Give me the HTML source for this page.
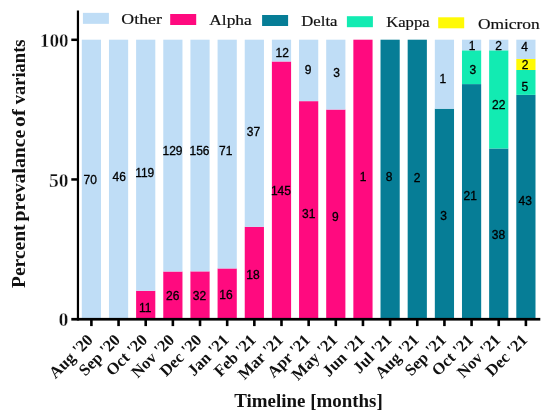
<!DOCTYPE html>
<html><head><meta charset="utf-8"><title>Percent prevalance of variants</title>
<style>
html,body{margin:0;padding:0;background:#fff;}
svg{display:block}
.ax{font-family:"Liberation Serif",serif;font-weight:bold;fill:#111}
.yt{stroke:#fff;stroke-width:0.35px}
.lg{font-family:"Liberation Serif",serif;fill:#111;stroke:#111;stroke-width:0.2px;font-size:15.4px}
.n{font-family:"Liberation Sans",sans-serif;font-size:12px;fill:#000;stroke:#000;stroke-width:0.3px;text-anchor:middle}
</style></head><body>
<svg width="550" height="418" viewBox="0 0 550 418">
<rect width="550" height="418" fill="#fff"/>

<rect x="81.80" y="39.70" width="19.20" height="279.30" fill="#BFDDF6"/>
<rect x="108.96" y="39.70" width="19.20" height="279.30" fill="#BFDDF6"/>
<rect x="136.11" y="290.79" width="19.20" height="28.21" fill="#FF0A7F"/>
<rect x="136.11" y="39.70" width="19.20" height="251.09" fill="#BFDDF6"/>
<rect x="163.27" y="271.52" width="19.20" height="47.48" fill="#FF0A7F"/>
<rect x="163.27" y="39.70" width="19.20" height="231.82" fill="#BFDDF6"/>
<rect x="190.42" y="271.38" width="19.20" height="47.62" fill="#FF0A7F"/>
<rect x="190.42" y="39.70" width="19.20" height="231.68" fill="#BFDDF6"/>
<rect x="217.58" y="268.45" width="19.20" height="50.55" fill="#FF0A7F"/>
<rect x="217.58" y="39.70" width="19.20" height="228.75" fill="#BFDDF6"/>
<rect x="244.74" y="226.83" width="19.20" height="92.17" fill="#FF0A7F"/>
<rect x="244.74" y="39.70" width="19.20" height="187.13" fill="#BFDDF6"/>
<rect x="271.89" y="61.49" width="19.20" height="257.51" fill="#FF0A7F"/>
<rect x="271.89" y="39.70" width="19.20" height="21.79" fill="#BFDDF6"/>
<rect x="299.05" y="101.15" width="19.20" height="217.85" fill="#FF0A7F"/>
<rect x="299.05" y="39.70" width="19.20" height="61.45" fill="#BFDDF6"/>
<rect x="326.20" y="109.53" width="19.20" height="209.47" fill="#FF0A7F"/>
<rect x="326.20" y="39.70" width="19.20" height="69.83" fill="#BFDDF6"/>
<rect x="353.36" y="39.70" width="19.20" height="279.30" fill="#FF0A7F"/>
<rect x="380.52" y="39.70" width="19.20" height="279.30" fill="#067D96"/>
<rect x="407.67" y="39.70" width="19.20" height="279.30" fill="#067D96"/>
<rect x="434.83" y="108.69" width="19.20" height="210.31" fill="#067D96"/>
<rect x="434.83" y="39.70" width="19.20" height="68.99" fill="#BFDDF6"/>
<rect x="461.98" y="84.11" width="19.20" height="234.89" fill="#067D96"/>
<rect x="461.98" y="50.31" width="19.20" height="33.80" fill="#12EBB2"/>
<rect x="461.98" y="39.70" width="19.20" height="10.61" fill="#BFDDF6"/>
<rect x="489.14" y="148.49" width="19.20" height="170.51" fill="#067D96"/>
<rect x="489.14" y="50.31" width="19.20" height="98.17" fill="#12EBB2"/>
<rect x="489.14" y="39.70" width="19.20" height="10.61" fill="#BFDDF6"/>
<rect x="516.30" y="94.86" width="19.20" height="224.14" fill="#067D96"/>
<rect x="516.30" y="70.00" width="19.20" height="24.86" fill="#12EBB2"/>
<rect x="516.30" y="58.97" width="19.20" height="11.03" fill="#FFFA05"/>
<rect x="516.30" y="39.70" width="19.20" height="19.27" fill="#BFDDF6"/>
<rect x="76.85" y="10.5" width="2.2" height="310" fill="#000"/>
<rect x="71.3" y="317.9" width="469" height="2.7" fill="#000"/>
<rect x="71.3" y="178.20" width="6" height="2.5" fill="#000"/>
<rect x="71.3" y="38.55" width="6" height="2.5" fill="#000"/>
<rect x="90.10" y="320" width="2.6" height="6.1" fill="#000"/>
<rect x="117.26" y="320" width="2.6" height="6.1" fill="#000"/>
<rect x="144.41" y="320" width="2.6" height="6.1" fill="#000"/>
<rect x="171.57" y="320" width="2.6" height="6.1" fill="#000"/>
<rect x="198.72" y="320" width="2.6" height="6.1" fill="#000"/>
<rect x="225.88" y="320" width="2.6" height="6.1" fill="#000"/>
<rect x="253.04" y="320" width="2.6" height="6.1" fill="#000"/>
<rect x="280.19" y="320" width="2.6" height="6.1" fill="#000"/>
<rect x="307.35" y="320" width="2.6" height="6.1" fill="#000"/>
<rect x="334.50" y="320" width="2.6" height="6.1" fill="#000"/>
<rect x="361.66" y="320" width="2.6" height="6.1" fill="#000"/>
<rect x="388.82" y="320" width="2.6" height="6.1" fill="#000"/>
<rect x="415.97" y="320" width="2.6" height="6.1" fill="#000"/>
<rect x="443.13" y="320" width="2.6" height="6.1" fill="#000"/>
<rect x="470.28" y="320" width="2.6" height="6.1" fill="#000"/>
<rect x="497.44" y="320" width="2.6" height="6.1" fill="#000"/>
<rect x="524.60" y="320" width="2.6" height="6.1" fill="#000"/>
<text class="ax yt" x="58.6" y="326.3" font-size="19" textLength="10.0" lengthAdjust="spacingAndGlyphs">0</text>
<text class="ax yt" x="49.0" y="186.7" font-size="19" textLength="19.6" lengthAdjust="spacingAndGlyphs">50</text>
<text class="ax yt" x="39.8" y="47.0" font-size="19" textLength="28.8" lengthAdjust="spacingAndGlyphs">100</text>
<text class="ax" font-size="18.2" transform="translate(24.9,288.0) rotate(-90)" textLength="63.6" lengthAdjust="spacingAndGlyphs">Percent</text>
<text class="ax" font-size="18.2" transform="translate(24.9,221.5) rotate(-90)" textLength="91.8" lengthAdjust="spacingAndGlyphs">prevalance</text>
<text class="ax" font-size="18.2" transform="translate(24.9,127.0) rotate(-90)" textLength="17.8" lengthAdjust="spacingAndGlyphs">of</text>
<text class="ax" font-size="18.2" transform="translate(24.9,104.3) rotate(-90)" textLength="64.8" lengthAdjust="spacingAndGlyphs">variants</text>
<text class="ax" font-size="18.8" x="234.2" y="406.7" textLength="148.6" lengthAdjust="spacingAndGlyphs">Timeline [months]</text>
<text class="ax" font-size="16.4" text-anchor="end" transform="translate(93.90,341) rotate(-45)">Aug '20</text>
<text class="ax" font-size="16.4" text-anchor="end" transform="translate(121.06,341) rotate(-45)">Sep '20</text>
<text class="ax" font-size="16.4" text-anchor="end" transform="translate(148.21,341) rotate(-45)">Oct '20</text>
<text class="ax" font-size="16.4" text-anchor="end" transform="translate(175.37,341) rotate(-45)">Nov '20</text>
<text class="ax" font-size="16.4" text-anchor="end" transform="translate(202.52,341) rotate(-45)">Dec '20</text>
<text class="ax" font-size="16.4" text-anchor="end" transform="translate(229.68,341) rotate(-45)">Jan '21</text>
<text class="ax" font-size="16.4" text-anchor="end" transform="translate(256.84,341) rotate(-45)">Feb '21</text>
<text class="ax" font-size="16.4" text-anchor="end" transform="translate(283.99,341) rotate(-45)">Mar '21</text>
<text class="ax" font-size="16.4" text-anchor="end" transform="translate(311.15,341) rotate(-45)">Apr '21</text>
<text class="ax" font-size="16.4" text-anchor="end" transform="translate(338.30,341) rotate(-45)">May '21</text>
<text class="ax" font-size="16.4" text-anchor="end" transform="translate(365.46,341) rotate(-45)">Jun '21</text>
<text class="ax" font-size="16.4" text-anchor="end" transform="translate(392.62,341) rotate(-45)">Jul '21</text>
<text class="ax" font-size="16.4" text-anchor="end" transform="translate(419.77,341) rotate(-45)">Aug '21</text>
<text class="ax" font-size="16.4" text-anchor="end" transform="translate(446.93,341) rotate(-45)">Sep '21</text>
<text class="ax" font-size="16.4" text-anchor="end" transform="translate(474.08,341) rotate(-45)">Oct '21</text>
<text class="ax" font-size="16.4" text-anchor="end" transform="translate(501.24,341) rotate(-45)">Nov '21</text>
<text class="ax" font-size="16.4" text-anchor="end" transform="translate(528.40,341) rotate(-45)">Dec '21</text>
<rect x="82.9" y="12.85" width="26" height="11" fill="#BFDDF6"/>
<text class="lg" x="121.3" y="23.8" textLength="40.6" lengthAdjust="spacingAndGlyphs">Other</text>
<rect x="170.2" y="14.00" width="26" height="11" fill="#FF0A7F"/>
<text class="lg" x="209.3" y="24.9" textLength="42.4" lengthAdjust="spacingAndGlyphs">Alpha</text>
<rect x="262.1" y="15.00" width="26" height="11" fill="#067D96"/>
<text class="lg" x="301.3" y="26.1" textLength="36.2" lengthAdjust="spacingAndGlyphs">Delta</text>
<rect x="346.9" y="16.20" width="26" height="11" fill="#12EBB2"/>
<text class="lg" x="386.2" y="27.4" textLength="43.4" lengthAdjust="spacingAndGlyphs">Kappa</text>
<rect x="438.2" y="17.30" width="26" height="11" fill="#FFFA05"/>
<text class="lg" x="477.9" y="28.6" textLength="61.8" lengthAdjust="spacingAndGlyphs">Omicron</text>
<text class="n" x="90.3" y="183.9">70</text>
<text class="n" x="119.3" y="181.0">46</text>
<text class="n" x="144.7" y="177.3">119</text>
<text class="n" x="172.5" y="155.3">129</text>
<text class="n" x="199.5" y="155.3">156</text>
<text class="n" x="225.7" y="155.3">71</text>
<text class="n" x="253.5" y="136.1">37</text>
<text class="n" x="145.3" y="311.8">11</text>
<text class="n" x="172.8" y="300.1">26</text>
<text class="n" x="199.5" y="299.8">32</text>
<text class="n" x="225.9" y="299.2">16</text>
<text class="n" x="253.0" y="278.6">18</text>
<text class="n" x="282.3" y="56.7">12</text>
<text class="n" x="308.2" y="74.2">9</text>
<text class="n" x="336.7" y="76.7">3</text>
<text class="n" x="280.9" y="195.3">145</text>
<text class="n" x="308.7" y="217.6">31</text>
<text class="n" x="335.4" y="220.6">9</text>
<text class="n" x="363.0" y="180.8">1</text>
<text class="n" x="389.2" y="180.8">8</text>
<text class="n" x="417.1" y="181.9">2</text>
<text class="n" x="442.8" y="82.9">1</text>
<text class="n" x="443.6" y="219.6">3</text>
<text class="n" x="472.2" y="49.6">1</text>
<text class="n" x="472.8" y="74.4">3</text>
<text class="n" x="470.3" y="200.0">21</text>
<text class="n" x="498.6" y="49.6">2</text>
<text class="n" x="498.8" y="108.6">22</text>
<text class="n" x="498.4" y="239.0">38</text>
<text class="n" x="524.7" y="51.3">4</text>
<text class="n" x="525.0" y="69.1">2</text>
<text class="n" x="524.8" y="90.7">5</text>
<text class="n" x="525.2" y="205.3">43</text>
</svg></body></html>
